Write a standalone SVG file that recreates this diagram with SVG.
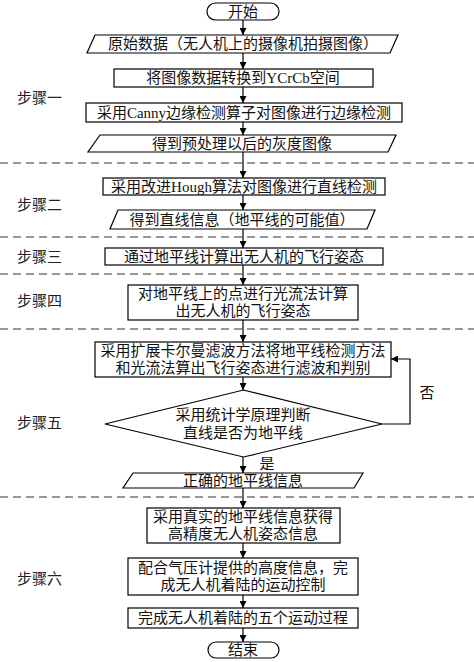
<svg xmlns="http://www.w3.org/2000/svg" width="474" height="662" viewBox="0 0 474 662">
<style>
.n{fill:#fff;stroke:#000;stroke-width:1.2}
.t{font-family:"Liberation Serif","Noto Sans CJK SC",serif;font-size:15px;fill:#111;text-anchor:middle;dominant-baseline:central}
.s{font-family:"Liberation Serif","Noto Sans CJK SC",serif;font-size:15px;fill:#222;dominant-baseline:central}
.c{fill:none;stroke:#000;stroke-width:1.2}
.d{stroke:#333;stroke-width:1.2;stroke-dasharray:8 5}
</style>
<defs>
<marker id="a" viewBox="0 0 10 10" refX="10" refY="5" markerWidth="7" markerHeight="7" orient="auto" markerUnits="userSpaceOnUse">
<path d="M0,0 L10,5 L0,10 z" fill="#000"/>
</marker>
</defs>
<rect width="474" height="662" fill="#fff"/>
<g id="dividers">
<line class="d" x1="0" y1="163" x2="474" y2="163"/>
<line class="d" x1="0" y1="237" x2="474" y2="237"/>
<line class="d" x1="0" y1="274" x2="474" y2="274"/>
<line class="d" x1="0" y1="329" x2="474" y2="329"/>
<line class="d" x1="0" y1="497" x2="474" y2="497"/>
</g>
<g id="steps">
<text class="s" x="17" y="98">步骤一</text>
<text class="s" x="17" y="205">步骤二</text>
<text class="s" x="17" y="257">步骤三</text>
<text class="s" x="17" y="301">步骤四</text>
<text class="s" x="17" y="423">步骤五</text>
<text class="s" x="17" y="579">步骤六</text>
</g>
<g id="connectors">
<line class="c" x1="243" y1="20" x2="243" y2="35" marker-end="url(#a)"/>
<line class="c" x1="243" y1="53" x2="243" y2="69" marker-end="url(#a)"/>
<line class="c" x1="243" y1="87" x2="243" y2="103" marker-end="url(#a)"/>
<line class="c" x1="243" y1="122" x2="243" y2="135" marker-end="url(#a)"/>
<line class="c" x1="243" y1="152" x2="243" y2="178" marker-end="url(#a)"/>
<line class="c" x1="243" y1="195" x2="243" y2="210" marker-end="url(#a)"/>
<line class="c" x1="243" y1="229" x2="243" y2="248" marker-end="url(#a)"/>
<line class="c" x1="243" y1="265" x2="243" y2="285" marker-end="url(#a)"/>
<line class="c" x1="243" y1="320" x2="243" y2="342" marker-end="url(#a)"/>
<line class="c" x1="243" y1="377" x2="243" y2="390" marker-end="url(#a)"/>
<line class="c" x1="243" y1="457" x2="243" y2="473" marker-end="url(#a)"/>
<polyline class="c" points="382,424 410,424 410,359 391,359" marker-end="url(#a)"/>
<line class="c" x1="243" y1="488" x2="243" y2="508" marker-end="url(#a)"/>
<line class="c" x1="243" y1="543" x2="243" y2="558" marker-end="url(#a)"/>
<line class="c" x1="243" y1="595" x2="243" y2="608" marker-end="url(#a)"/>
<line class="c" x1="243" y1="628" x2="243" y2="642" marker-end="url(#a)"/>
<text class="t" x="427" y="393">否</text>
<text class="t" x="267" y="464">是</text>
</g>
<g id="start">
<rect class="n" x="207" y="3" width="72" height="17" rx="8.5"/>
<text class="t" x="243" y="12">开始</text>
</g>
<g id="p1">
<polygon class="n" points="95,35 398,35 390,53 87,53"/>
<text class="t" x="243" y="44">原始数据（无人机上的摄像机拍摄图像）</text>
</g>
<g id="r1">
<rect class="n" x="114" y="69" width="259" height="18"/>
<text class="t" x="243" y="78">将图像数据转换到YCrCb空间</text>
</g>
<g id="r2">
<rect class="n" x="86" y="103" width="316" height="19"/>
<text class="t" x="244" y="112.5">采用Canny边缘检测算子对图像进行边缘检测</text>
</g>
<g id="p2">
<polygon class="n" points="100,135 396,135 388,152 88,152"/>
<text class="t" x="242" y="143.5">得到预处理以后的灰度图像</text>
</g>
<g id="r3">
<rect class="n" x="103" y="178" width="282" height="17"/>
<text class="t" x="244" y="186.5">采用改进Hough算法对图像进行直线检测</text>
</g>
<g id="p3">
<polygon class="n" points="118,210 375,210 367,229 110,229"/>
<text class="t" x="242" y="219.5">得到直线信息（地平线的可能值）</text>
</g>
<g id="r4">
<rect class="n" x="105" y="248" width="278" height="17"/>
<text class="t" x="244" y="256.5">通过地平线计算出无人机的飞行姿态</text>
</g>
<g id="r5">
<rect class="n" x="128" y="285" width="230" height="35"/>
<text class="t" x="243" y="294">对地平线上的点进行光流法计算</text>
<text class="t" x="243" y="311">出无人机的飞行姿态</text>
</g>
<g id="r6">
<rect class="n" x="95" y="342" width="296" height="35"/>
<text class="t" x="243" y="351">采用扩展卡尔曼滤波方法将地平线检测方法</text>
<text class="t" x="243" y="368">和光流法算出飞行姿态进行滤波和判别</text>
</g>
<g id="decision">
<polygon class="n" points="243.5,390 382,424 243.5,457 105,424"/>
<text class="t" x="243" y="415">采用统计学原理判断</text>
<text class="t" x="243" y="433">直线是否为地平线</text>
</g>
<g id="p4">
<polygon class="n" points="133,473 363,473 354,488 123,488"/>
<text class="t" x="243" y="480.5">正确的地平线信息</text>
</g>
<g id="r7">
<rect class="n" x="147" y="508" width="193" height="35"/>
<text class="t" x="243" y="517">采用真实的地平线信息获得</text>
<text class="t" x="243" y="534">高精度无人机姿态信息</text>
</g>
<g id="r8">
<rect class="n" x="128" y="558" width="230" height="37"/>
<text class="t" x="243" y="568">配合气压计提供的高度信息，完</text>
<text class="t" x="243" y="585">成无人机着陆的运动控制</text>
</g>
<g id="r9">
<rect class="n" x="128" y="608" width="230" height="20"/>
<text class="t" x="243" y="618">完成无人机着陆的五个运动过程</text>
</g>
<g id="end">
<rect class="n" x="208" y="642" width="71" height="16" rx="8"/>
<text class="t" x="243" y="650">结束</text>
</g>
</svg>
